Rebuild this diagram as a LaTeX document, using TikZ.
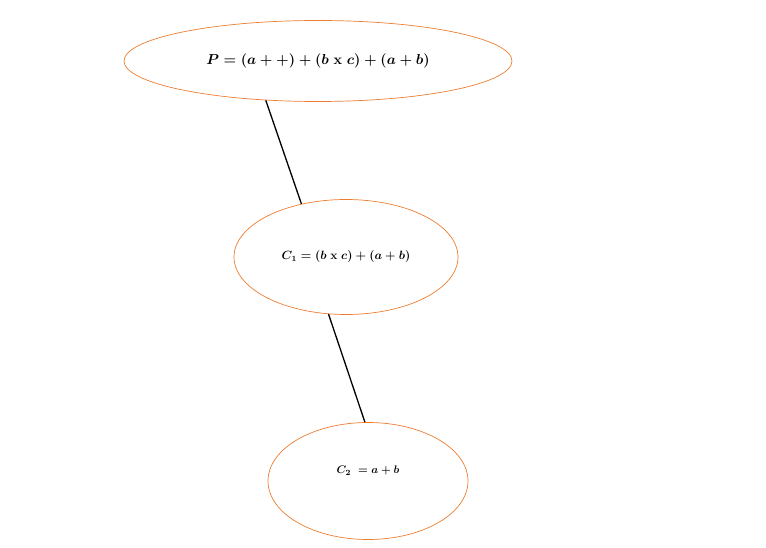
\documentclass[tikz,border=0pt]{standalone}
\usepackage{amsmath,bm}
\usetikzlibrary{shapes.geometric}
\definecolor{bubbleorange}{RGB}{237,125,49}
\tikzset{
  bubble/.style={ellipse, draw=bubbleorange, line width=0.7pt, inner sep=0pt},
  link/.style={black, line width=1.3pt}
}
\begin{document}
\begin{tikzpicture}[x=1pt, y=-1pt]
      \useasboundingbox (0,0) rectangle (766,548);
      \node[bubble, minimum width=388pt, minimum height=81pt, font=\fontsize{15.5}{18}\selectfont\boldmath] (p) at (318, 61) {$P = (a + +) + (b\ \mathbf{x}\ c) + (a + b)$};
      \node[bubble, minimum width=224pt, minimum height=115pt, font=\fontsize{11.5}{14}\selectfont\boldmath] (c1) at (346, 257) {$C_1 = (b\ \mathbf{x}\ c) + (a + b)$};
      \node[bubble, minimum width=200pt, minimum height=117pt, text depth=22pt, font=\fontsize{11}{13}\selectfont\boldmath] (c2) at (368, 481) {$C_2\ = a + b$};
      \draw[link] (p.217) to (c1.130);
      \draw[link] (c1.253) to (c2.93);
    \end{tikzpicture}
\end{document}
